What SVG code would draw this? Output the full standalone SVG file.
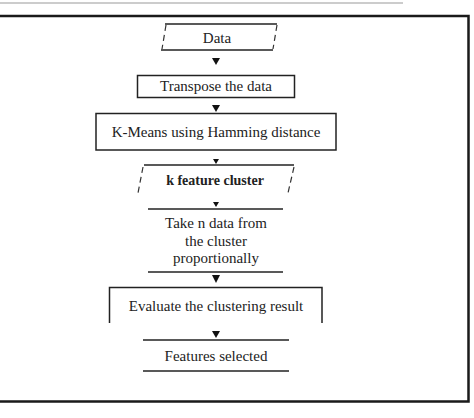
<svg xmlns="http://www.w3.org/2000/svg" width="474" height="418" viewBox="0 0 474 418">
<style>
.t{font-family:"Liberation Serif","Times New Roman",serif;font-size:15px;fill:#222;text-anchor:middle}
.b{font-weight:bold;font-size:14px}
.s{fill:none;stroke:#222;stroke-width:1.5}
.d{fill:none;stroke:#333;stroke-width:1.2;stroke-dasharray:6 4}
.a{fill:#111}
</style>
<rect width="474" height="418" fill="#fff"/>
<line x1="0" y1="3" x2="403" y2="3" stroke="#999" stroke-width="1.2"/>
<polyline points="0,16 468.5,16 468.5,401.5 0,401.5" fill="none" stroke="#1a1a1a" stroke-width="2.5"/>
<g id="connectors">
<polygon class="a" points="212,58 220,58 216,65"/>
<polygon class="a" points="212,105 220,105 216,112"/>
<polygon class="a" points="213,159 219,159 216,164"/>
<polygon class="a" points="213,202 219,202 216,207"/>
<polygon class="a" points="212,275 220,275 216,283"/>
<polygon class="a" points="212,331 220,331 216,338"/>
</g>
<g id="data">
<line class="s" x1="165" y1="24" x2="277" y2="24" stroke-width="1.2"/>
<line class="s" x1="161" y1="50" x2="273" y2="50" stroke-width="1.2"/>
<line class="d" x1="166" y1="25" x2="162" y2="49"/>
<line class="d" x1="277" y1="25" x2="273" y2="49"/>
<text class="t" x="217" y="43">Data</text>
</g>
<g id="transpose">
<rect class="s" x="137.5" y="75.5" width="157" height="22"/>
<text class="t" x="216" y="91">Transpose the data</text>
</g>
<g id="kmeans">
<rect class="s" x="96" y="113.5" width="240" height="36.5"/>
<text class="t" x="216" y="137">K-Means using Hamming distance</text>
</g>
<g id="kfeature">
<line class="s" x1="144" y1="165" x2="294" y2="165"/>
<line class="d" x1="143" y1="167" x2="138" y2="193"/>
<line class="d" x1="294" y1="167" x2="288" y2="193"/>
<text class="t b" x="215" y="185">k feature cluster</text>
</g>
<g id="take">
<line class="s" x1="148" y1="209" x2="283" y2="209"/>
<line class="s" x1="148" y1="272" x2="283" y2="272"/>
<text class="t" x="216" y="228">Take n data from</text>
<text class="t" x="216" y="246">the cluster</text>
<text class="t" x="216" y="263">proportionally</text>
</g>
<g id="evaluate">
<polyline class="s" points="109.5,323 109.5,287.5 322,287.5 322,323"/>
<text class="t" x="216" y="311">Evaluate the clustering result</text>
</g>
<g id="features">
<line class="s" x1="143" y1="340" x2="289" y2="340"/>
<line class="s" x1="143" y1="371" x2="289" y2="371"/>
<text class="t" x="216" y="361">Features selected</text>
</g>
</svg>
